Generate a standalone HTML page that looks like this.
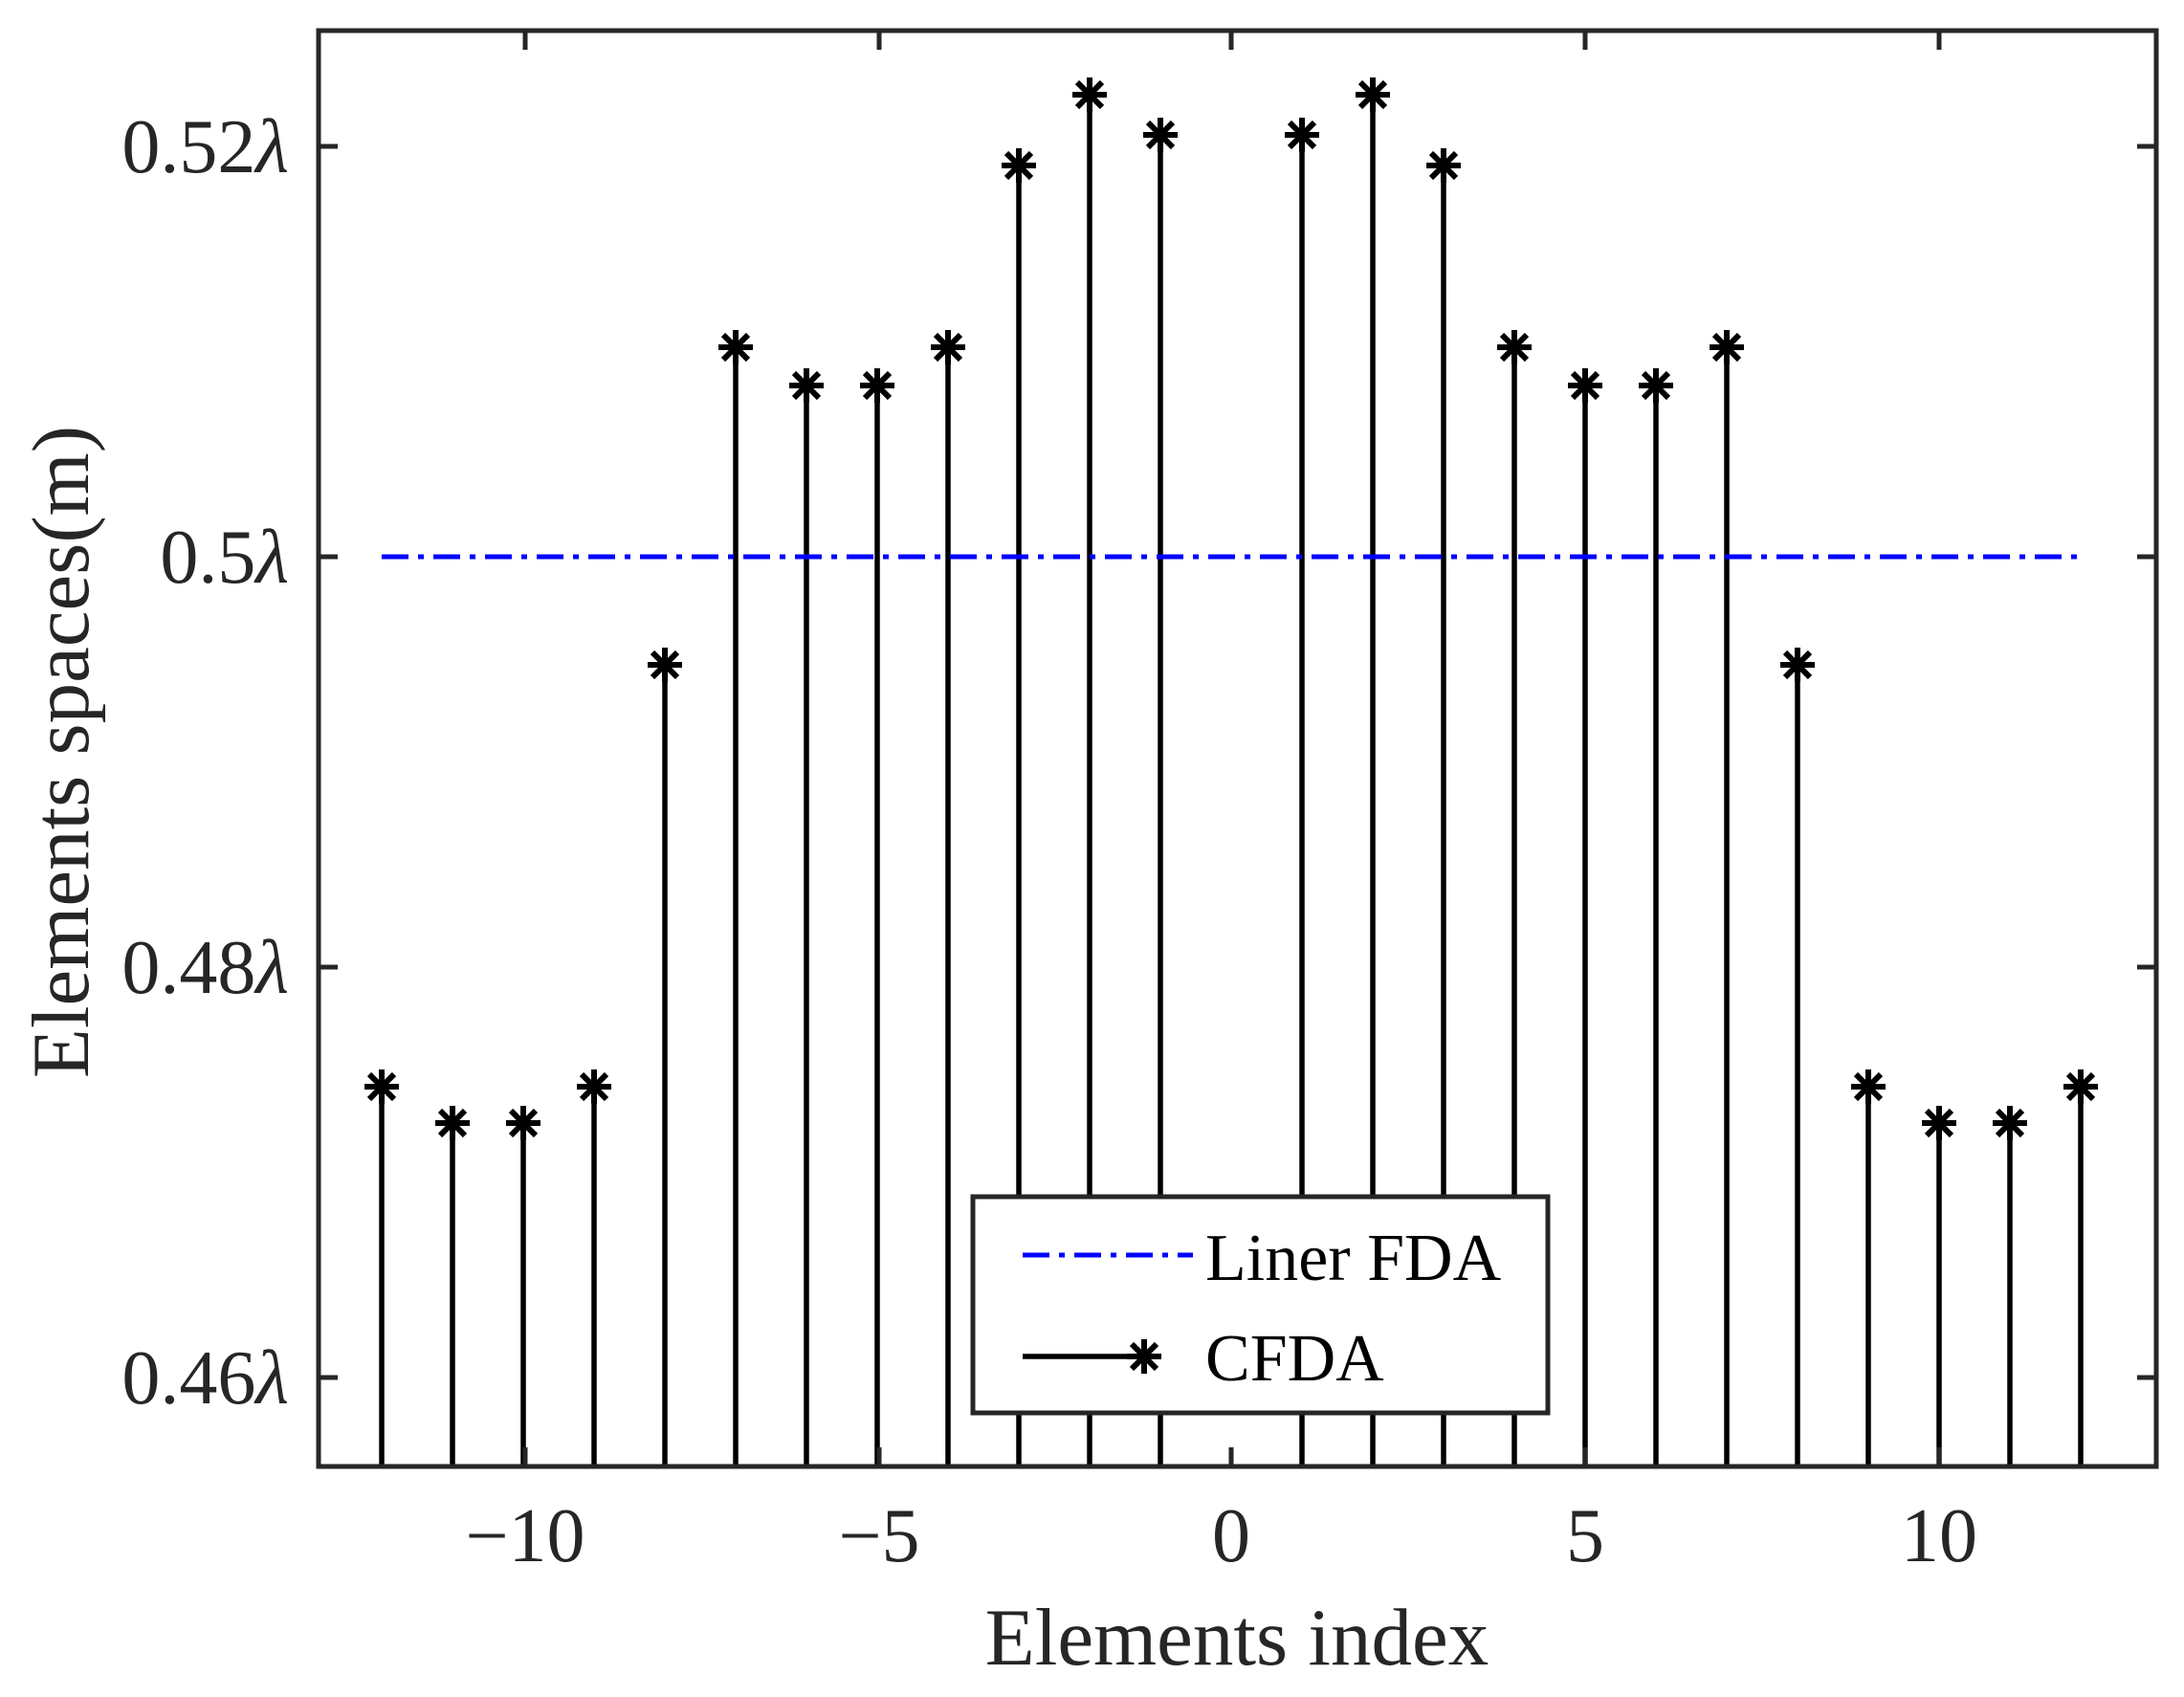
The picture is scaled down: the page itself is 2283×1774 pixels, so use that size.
<!DOCTYPE html>
<html><head><style>html,body{margin:0;padding:0;background:#fff}svg{display:block}</style></head>
<body>
<svg width="2283" height="1774" viewBox="0 0 2283 1774" xmlns="http://www.w3.org/2000/svg" font-family="Liberation Serif, serif">
<defs>
<g id="st" stroke="#000" stroke-width="6">
<line x1="-18" y1="0" x2="18" y2="0"/><line x1="0" y1="-18" x2="0" y2="18"/>
<line x1="-13" y1="-13" x2="13" y2="13"/><line x1="-13" y1="13" x2="13" y2="-13"/>
</g>
</defs>
<rect x="333" y="32" width="1921" height="1501" fill="#fff"/>
<g id="stems" stroke="#000" stroke-width="5.5"></g>
<line x1="399" y1="582" x2="2174" y2="582" stroke="#0000ff" stroke-width="5" stroke-dasharray="28,10,6,10"/>
<!-- legend -->
<rect x="1017" y="1251" width="601" height="226" fill="#fff" stroke="#262626" stroke-width="5"/>
<line x1="1069" y1="1312" x2="1247" y2="1312" stroke="#0000ff" stroke-width="5" stroke-dasharray="28,10,6,10"/>
<text x="1260" y="1338" font-size="70" fill="#000">Liner FDA</text>
<line x1="1069" y1="1418" x2="1196" y2="1418" stroke="#000" stroke-width="5.5"/>
<use href="#st" x="1196" y="1418"/>
<text x="1260" y="1443" font-size="70" fill="#000">CFDA</text>
<!-- axes -->
<rect x="333" y="32" width="1921" height="1501" fill="none" stroke="#262626" stroke-width="5"/>
<g stroke="#262626" stroke-width="5">
<line x1="549" y1="1533" x2="549" y2="1513"/><line x1="549" y1="32" x2="549" y2="52"/>
<line x1="919" y1="1533" x2="919" y2="1513"/><line x1="919" y1="32" x2="919" y2="52"/>
<line x1="1287" y1="1533" x2="1287" y2="1513"/><line x1="1287" y1="32" x2="1287" y2="52"/>
<line x1="1657" y1="1533" x2="1657" y2="1513"/><line x1="1657" y1="32" x2="1657" y2="52"/>
<line x1="2027" y1="1533" x2="2027" y2="1513"/><line x1="2027" y1="32" x2="2027" y2="52"/>
<line x1="333" y1="153" x2="353" y2="153"/><line x1="2254" y1="153" x2="2234" y2="153"/>
<line x1="333" y1="582" x2="353" y2="582"/><line x1="2254" y1="582" x2="2234" y2="582"/>
<line x1="333" y1="1011" x2="353" y2="1011"/><line x1="2254" y1="1011" x2="2234" y2="1011"/>
<line x1="333" y1="1440" x2="353" y2="1440"/><line x1="2254" y1="1440" x2="2234" y2="1440"/>
</g>
<g font-size="80" fill="#262626" text-anchor="middle">
<text x="549" y="1632">−10</text>
<text x="919" y="1632">−5</text>
<text x="1287" y="1632">0</text>
<text x="1657" y="1632">5</text>
<text x="2027" y="1632">10</text>
</g>
<g font-size="80" fill="#262626" text-anchor="end">
<text x="302" y="180">0.52<tspan font-style="italic">λ</tspan></text>
<text x="302" y="609">0.5<tspan font-style="italic">λ</tspan></text>
<text x="302" y="1038">0.48<tspan font-style="italic">λ</tspan></text>
<text x="302" y="1467">0.46<tspan font-style="italic">λ</tspan></text>
</g>
<text x="1293" y="1740" font-size="85" fill="#262626" text-anchor="middle">Elements index</text>
<text transform="translate(92,786) rotate(-90)" font-size="85" fill="#262626" text-anchor="middle">Elements spaces(m)</text>
<script>
var tops={"-12":1136,"-11":1174,"-10":1174,"-9":1136,"-8":695,"-7":363,"-6":403,"-5":403,"-4":363,"-3":173,"-2":99,"-1":141};
var g=document.getElementById('stems'),ns='http://www.w3.org/2000/svg';
for(var i=-12;i<=12;i++){if(i==0)continue;var y=tops[String(-Math.abs(i))];var x=1287+74*i;
var l=document.createElementNS(ns,'line');l.setAttribute('x1',x);l.setAttribute('x2',x);l.setAttribute('y1',y);l.setAttribute('y2',1533);g.appendChild(l);
var u=document.createElementNS(ns,'use');u.setAttribute('href','#st');u.setAttribute('x',x);u.setAttribute('y',y);g.appendChild(u);}
</script>
</svg>
</body></html>
